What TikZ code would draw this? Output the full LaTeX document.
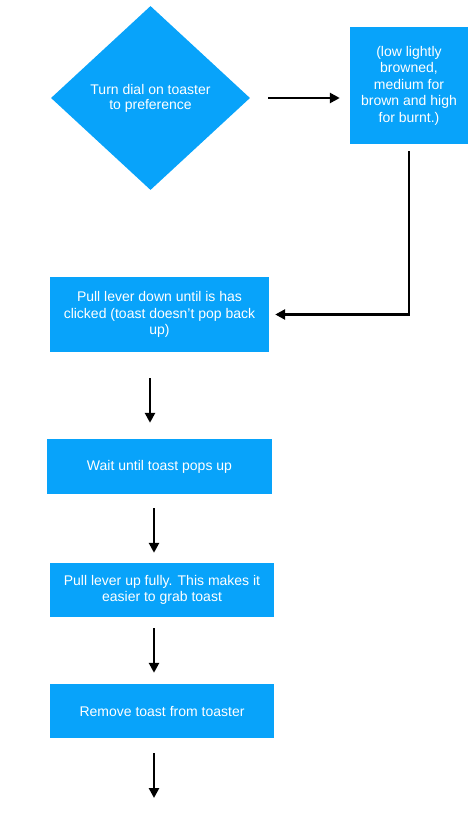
\documentclass[tikz,border=0pt]{standalone}
\usepackage{fontspec}
\setmainfont{Liberation Sans}
\usetikzlibrary{shapes.geometric,arrows.meta}
\definecolor{boxblue}{RGB}{8,163,250}
\tikzset{
  stepbox/.style={rectangle, fill=boxblue, draw=none, text=white, align=center, inner sep=0pt,
    font=\fontsize{14}{16.5}\selectfont},
  decision/.style={diamond, fill=boxblue, draw=none, text=white, align=center, inner sep=0pt,
    minimum width=199pt, minimum height=184pt, font=\fontsize{14}{15}\selectfont},
  arr/.style={line width=2.5pt, -{Triangle[length=10pt,width=10pt]}}
}
\begin{document}
\begin{tikzpicture}[x=1pt,y=-1pt]
\useasboundingbox (0,0) rectangle (474,813);
\node[decision] (d) at (150.5,98) {Turn dial on toaster\\to preference};
\node[stepbox, minimum width=118pt, minimum height=117pt] (b2) at (409,85.5)
  {(low lightly\\browned,\\medium for\\brown and high\\for burnt.)};
\node[stepbox, minimum width=219pt, minimum height=75pt] (b3) at (159.5,314.5)
  {Pull lever down until is has\\clicked (toast doesn’t pop back\\up)};
\node[stepbox, minimum width=225pt, minimum height=55pt] (b4) at (159.5,466.5)
  {Wait until toast pops up};
\node[stepbox, minimum width=224pt, minimum height=54pt] (b5) at (162,590)
  {Pull lever up fully. This makes it\\easier to grab toast};
\node[stepbox, minimum width=224pt, minimum height=54pt] (b6) at (162,711)
  {Remove toast from toaster};
\coordinate (a1) at (d.east -| b2.west);
\coordinate (end) at (154,798);

\draw[arr] ([xshift=18pt]d.east) -- ([xshift=-10pt]a1);
\draw[arr] ([yshift=-7pt]b2.south) |- ([xshift=6pt]b3.east);
\draw[arr] ([xshift=-9.5pt,yshift=-26pt]b3.south) -- ([xshift=-9.5pt,yshift=16pt]b4.north);
\draw[arr] ([xshift=-5.5pt,yshift=-14pt]b4.south) -- ([xshift=-8pt,yshift=10pt]b5.north);
\draw[arr] ([xshift=-8pt,yshift=-11pt]b5.south) -- ([xshift=-8pt,yshift=11pt]b6.north);
\draw[arr] ([xshift=-8pt,yshift=-15pt]b6.south) -- (end);
\end{tikzpicture}
\end{document}
